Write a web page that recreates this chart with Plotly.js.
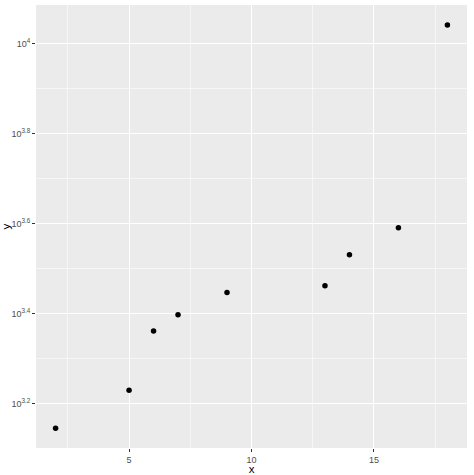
<!DOCTYPE html>
<html>
<head>
<meta charset="utf-8">
<script src="https://cdn.plot.ly/plotly-3.0.1.min.js"></script>
<style>
  html, body { margin: 0; padding: 0; background: #fff; }
  #plot { width: 474px; height: 475px; }
</style>
</head>
<body>
<div id="plot"></div>
<script>
// data
const xs = [2, 5, 6, 7, 9, 13, 14, 16, 18]
const ys = [1400, 1700, 2300, 2500, 2800, 2900, 3400, 3900, 11000]

// y ticks, log10 exponents
const yExp = [3.2, 3.4, 3.6, 3.8, 4]
const yMinorExp = [3.1, 3.3, 3.5, 3.7, 3.9]
const xTicks = [5, 10, 15]
const xMinor = [2.5, 7.5, 12.5, 17.5]

const trace = {
    type: 'scatter',
    mode: 'markers',
    x: xs,
    y: ys,
    marker: { size: 5.5, color: '#000' },
    hoverinfo: 'skip'
}

const tickFont = { family: 'Liberation Sans, Arial, sans-serif', size: 9, color: '#4D4D4D' }
const titleFont = { family: 'Liberation Sans, Arial, sans-serif', size: 11.5, color: '#000' }

const layout = {
    width: 474,
    height: 475,
    margin: { l: 36, r: 7, t: 5, b: 27 },
    paper_bgcolor: '#fff',
    plot_bgcolor: '#EBEBEB',
    showlegend: false,
    xaxis: {
        range: [1.2, 18.8],
        tickmode: 'array',
        tickvals: xTicks,
        ticktext: xTicks.map(String),
        ticks: 'outside',
        ticklen: 3,
        tickwidth: 1,
        tickcolor: '#333',
        tickfont: tickFont,
        showgrid: true,
        gridcolor: '#fff',
        gridwidth: 1.1,
        zeroline: false,
        showline: false,
        minor: { tickvals: xMinor, showgrid: true, gridcolor: '#fff', gridwidth: 0.55, ticks: '' },
        title: { text: 'x', font: titleFont, standoff: 5 }
    },
    yaxis: {
        type: 'log',
        range: [3.102, 4.086],
        tickmode: 'array',
        tickvals: yExp.map(e => Math.pow(10, e)),
        ticktext: yExp.map(e => '10<sup>' + e + '</sup>'),
        ticks: 'outside',
        ticklen: 3,
        tickwidth: 1,
        tickcolor: '#333',
        tickfont: tickFont,
        showgrid: true,
        gridcolor: '#fff',
        gridwidth: 1.1,
        zeroline: false,
        showline: false,
        minor: { tickvals: yMinorExp.map(e => Math.pow(10, e)), showgrid: true, gridcolor: '#fff', gridwidth: 0.55, ticks: '' },
        title: { text: 'y', font: titleFont, standoff: 2 }
    }
}

Plotly.newPlot('plot', [trace], layout, { displayModeBar: false, staticPlot: true })
</script>
</body>
</html>
